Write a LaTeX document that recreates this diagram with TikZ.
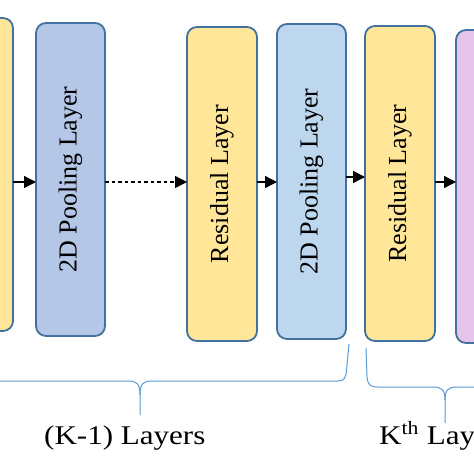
\documentclass[tikz,border=0pt]{standalone}
\usepackage{fontspec}
\setmainfont{Liberation Serif}
\usetikzlibrary{arrows.meta}
\definecolor{ylw}{HTML}{FFE699}
\definecolor{bluA}{HTML}{B4C7E7}
\definecolor{bluB}{HTML}{BDD7EE}
\definecolor{pnk}{HTML}{E6C4EC}
\definecolor{edge}{HTML}{41719C}
\definecolor{brc}{HTML}{5B9BD5}
\tikzset{
  layerbox/.style={draw=edge, line width=1.8pt, rounded corners=10pt, inner sep=0pt, outer sep=0pt,
    font=\fontsize{26}{30}\selectfont},
  arr/.style={line width=1.4pt, -{Triangle[length=12pt,width=12pt]}},
  darr/.style={arr, dash pattern=on 3.5pt off 3pt},
  bracepath/.style={draw=brc, line width=1pt},
  lbl/.style={inner sep=0pt, anchor=base west, font=\fontsize{27}{30}\selectfont}
}
\begin{document}
\begin{tikzpicture}[x=1pt,y=-1pt]
\useasboundingbox (0,0) rectangle (474,474);
\clip (0,0) rectangle (474,474);
\fill[white] (0,0) rectangle (474,474);
\node[layerbox, fill=ylw, minimum width=73pt, minimum height=313pt] (b1) at (-23.5,174.5) {};
\node[layerbox, fill=bluA, minimum width=69pt, minimum height=313pt] (b2) at (70.5,179.5) {\rotatebox{90}{2D Pooling Layer}};
\node[layerbox, fill=ylw, minimum width=70pt, minimum height=314pt] (b3) at (222,184) {\rotatebox{90}{Residual Layer}};
\node[layerbox, fill=bluB, minimum width=69pt, minimum height=315pt] (b4) at (311.5,181.5) {\rotatebox{90}{2D Pooling Layer}};
\node[layerbox, fill=ylw, minimum width=70pt, minimum height=315pt] (b5) at (400,183.5) {\rotatebox{90}{Residual Layer}};
\node[layerbox, fill=pnk, minimum width=74pt, minimum height=313pt] (b6) at (493,186.5) {};
\coordinate (ya) at (0,182);
\coordinate (yb) at (0,177);
\draw[arr] (b1.east |- ya) -- (b2.west |- ya);
\draw[darr] (b2.east |- ya) -- (b3.west |- ya);
\draw[arr] (b3.east |- ya) -- (b4.west |- ya);
\draw[arr] (b4.east |- yb) -- (b5.west |- yb);
\draw[arr] (b5.east |- ya) -- (b6.west |- ya);
% braces
\draw[bracepath] (-10,381) -- (128,381) .. controls (137,381) and (140,384) .. (140,395) -- (140,415);
\draw[bracepath] (140,395) .. controls (140,384) and (143,381) .. (152,381) -- (338,381)
  .. controls (344,381) and (346,378) .. (346.5,370) -- (349,344);
\draw[bracepath] (366,348) -- (367,377) .. controls (368,385) and (370,387) .. (378,387) -- (433,387)
  .. controls (442,387) and (445,390) .. (445,400) -- (445,423);
\draw[bracepath] (445,400) .. controls (445,390) and (448,387) .. (457,387) -- (490,387);
\node[lbl] (l1) at (44,444) {\scalebox{1.15}[1]{(K-1) Layers}};
\node[lbl] (l2) at (379,444) {\scalebox{1.15}[1]{K\textsuperscript{th} Layer}};
\end{tikzpicture}
\end{document}
